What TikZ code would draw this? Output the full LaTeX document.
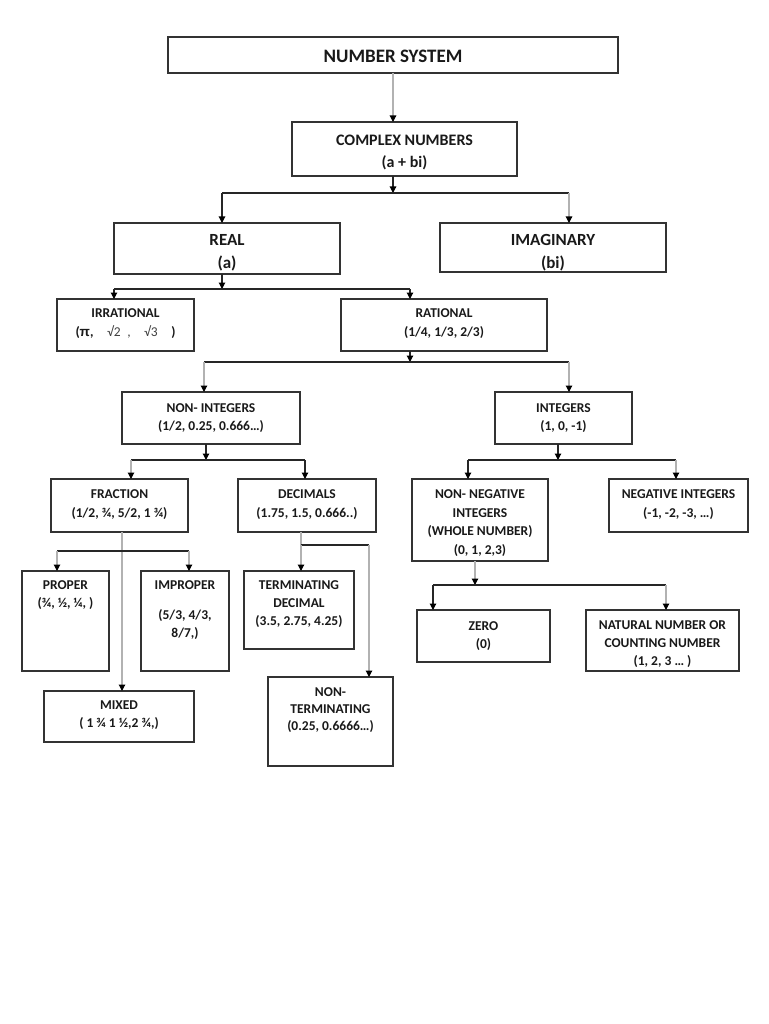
\documentclass[tikz,border=0pt]{standalone}
\usepackage{fontspec}
\setmainfont{Carlito}
\newfontfamily\pifont{Liberation Sans}
\usetikzlibrary{arrows.meta}
\begin{document}
\begin{tikzpicture}[x=1pt,y=-1pt,
  box/.style={draw=black!80, line width=1.3pt, inner sep=0pt, outer sep=0pt},
  txt/.style={align=center, inner sep=0pt, anchor=north, text=black!90, font=\bfseries\fontsize{13.5}{19}\selectfont},
  conn/.style={draw=black!85, line width=1.1pt},
  lconn/.style={draw=black!30, line width=1.1pt},
  arr/.style={-{Triangle[length=6.5pt,width=6.5pt,color=black]}}
]
\fill[white] (0,0) rectangle (768,1024);
\useasboundingbox (0,0) rectangle (768,1024);

% boxes
\node[box,minimum width=450pt,minimum height=36pt] (ns) at (393,55) {};
\node[box,minimum width=225pt,minimum height=54pt] (cx) at (404.5,149) {};
\node[box,minimum width=226pt,minimum height=51pt] (real) at (227,248.5) {};
\node[box,minimum width=226pt,minimum height=49pt] (imag) at (553,247.5) {};
\node[box,minimum width=137pt,minimum height=52pt] (irr) at (125.5,325) {};
\node[box,minimum width=206pt,minimum height=52pt] (rat) at (444,325) {};
\node[box,minimum width=178pt,minimum height=52pt] (nonint) at (211,418) {};
\node[box,minimum width=137pt,minimum height=52pt] (int) at (563.5,418) {};
\node[box,minimum width=137pt,minimum height=53pt] (frac) at (119.5,505.5) {};
\node[box,minimum width=138pt,minimum height=53pt] (dec) at (307,505.5) {};
\node[box,minimum width=136pt,minimum height=82pt] (nonneg) at (480,520) {};
\node[box,minimum width=139pt,minimum height=53pt] (neg) at (678.5,505.5) {};
\node[box,minimum width=87pt,minimum height=100pt] (proper) at (65.5,621) {};
\node[box,minimum width=88pt,minimum height=100pt] (improper) at (185,621) {};
\node[box,minimum width=110pt,minimum height=78pt] (term) at (299,610) {};
\node[box,minimum width=150pt,minimum height=51pt] (mixed) at (119,716.5) {};
\node[box,minimum width=125pt,minimum height=89pt] (nonterm) at (330.5,721.5) {};
\node[box,minimum width=133pt,minimum height=52pt] (zero) at (483.5,636) {};
\node[box,minimum width=153pt,minimum height=61pt] (nat) at (662.5,640.5) {};

% texts
\node[txt,font=\bfseries\fontsize{19}{23}\selectfont] (nsT) at (393,50) {NUMBER SYSTEM};
\node[txt,font=\bfseries\fontsize{16}{22}\selectfont] (cxT) at (404.5,135) {COMPLEX NUMBERS\\(a + bi)};
\node[txt,font=\bfseries\fontsize{17}{23}\selectfont] (realT) at (227,234.6) {REAL\\(a)};
\node[txt,font=\bfseries\fontsize{17}{23}\selectfont] (imagT) at (553,234.6) {IMAGINARY\\(bi)};
\node[txt] (irrT) at (125.5,308.7) {IRRATIONAL\\({\pifont\bfseries π},\quad{\mdseries\color{black!75}√2\enspace,\quad√3}\quad)};
\node[txt] (ratT) at (444,308.7) {RATIONAL\\(1/4, 1/3, 2/3)};
\node[txt,font=\bfseries\fontsize{13.5}{18}\selectfont] (nonintT) at (211,403.7) {NON- INTEGERS\\(1/2, 0.25, 0.666…)};
\node[txt,font=\bfseries\fontsize{13.5}{18}\selectfont] (intT) at (563.5,403.7) {INTEGERS\\(1, 0, -1)};
\node[txt] (fracT) at (119.5,489.7) {FRACTION\\(1/2, ¾, 5/2, 1 ¾)};
\node[txt] (decT) at (307,489.7) {DECIMALS\\(1.75, 1.5, 0.666..)};
\node[txt,font=\bfseries\fontsize{13.5}{18.5}\selectfont] (nonnegT) at (480,489.7) {NON- NEGATIVE\\INTEGERS\\(WHOLE NUMBER)\\(0, 1, 2,3)};
\node[txt] (negT) at (678.5,489.7) {NEGATIVE INTEGERS\\(-1, -2, -3, …)};
\node[txt,font=\bfseries\fontsize{13.5}{18}\selectfont] (properT) at (65.5,580.7) {PROPER\\(¾, ½, ¼, )};
\node[txt,font=\bfseries\fontsize{13.5}{18}\selectfont] (improperT) at (185,580.7) {IMPROPER\\[12pt](5/3, 4/3,\\8/7,)};
\node[txt,font=\bfseries\fontsize{13.5}{18}\selectfont] (termT) at (299,580.7) {TERMINATING\\DECIMAL\\(3.5, 2.75, 4.25)};
\node[txt,font=\bfseries\fontsize{13.5}{18}\selectfont] (mixedT) at (119,700.7) {MIXED\\( 1 ¾ 1 ½,2 ¾,)};
\node[txt,font=\bfseries\fontsize{13.5}{17}\selectfont] (nontermT) at (330.5,687.7) {NON-\\TERMINATING\\(0.25, 0.6666…)};
\node[txt,font=\bfseries\fontsize{13.5}{18}\selectfont] (zeroT) at (483.5,621.7) {ZERO\\(0)};
\node[txt,font=\bfseries\fontsize{13.5}{18}\selectfont] (natT) at (662.5,620.7) {NATURAL NUMBER OR\\COUNTING NUMBER\\(1, 2, 3 … )};

% junction coordinates
\coordinate (j1) at (393,193);
\coordinate (j1L) at (222,193);
\coordinate (j1R) at (569,193);
\coordinate (j2) at (222,289);
\coordinate (j2L) at (114,289);
\coordinate (j2R) at (410,289);
\coordinate (j3) at (410,362);
\coordinate (j3L) at (204,362);
\coordinate (j3R) at (569,362);
\coordinate (j4) at (206,460);
\coordinate (j4L) at (131,460);
\coordinate (j4R) at (305,460);
\coordinate (j5) at (558,460);
\coordinate (j5L) at (468,460);
\coordinate (j5R) at (676,460);
\coordinate (j6L) at (57,551);
\coordinate (j6R) at (189,551);
\coordinate (fx) at (122,0);
\coordinate (j7) at (301,545);
\coordinate (j7R) at (369,545);
\coordinate (j8) at (475,585);
\coordinate (j8L) at (433,585);
\coordinate (j8R) at (666,585);

% connectors
\draw[lconn,arr] (ns.south) -- (ns.south |- cx.north);
\draw[conn,arr] (j1 |- cx.south) -- (j1);
\draw[conn] (j1L) -- (j1R);
\draw[conn,arr] (j1L) -- (j1L |- real.north);
\draw[lconn,arr] (j1R) -- (j1R |- imag.north);

\draw[conn,arr] (j2 |- real.south) -- (j2);
\draw[conn] (j2L) -- (j2R);
\draw[conn,arr] (j2L) -- (j2L |- irr.north);
\draw[conn,arr] (j2R) -- (j2R |- rat.north);

\draw[conn,arr] (j3 |- rat.south) -- (j3);
\draw[conn] (j3L) -- (j3R);
\draw[lconn,arr] (j3L) -- (j3L |- nonint.north);
\draw[lconn,arr] (j3R) -- (j3R |- int.north);

\draw[conn,arr] (j4 |- nonint.south) -- (j4);
\draw[conn] (j4L) -- (j4R);
\draw[lconn,arr] (j4L) -- (j4L |- frac.north);
\draw[conn,arr] (j4R) -- (j4R |- dec.north);

\draw[conn,arr] (j5 |- int.south) -- (j5);
\draw[conn] (j5L) -- (j5R);
\draw[conn,arr] (j5L) -- (j5L |- nonneg.north);
\draw[lconn,arr] (j5R) -- (j5R |- neg.north);

\draw[lconn,arr] (fx |- frac.south) -- (fx |- mixed.north);
\draw[conn] (j6L) -- (j6R);
\draw[lconn,arr] (j6L) -- (j6L |- proper.north);
\draw[lconn,arr] (j6R) -- (j6R |- improper.north);

\draw[lconn] (j7 |- dec.south) -- (j7);
\draw[conn] (j7) -- (j7R);
\draw[lconn,arr] (j7) -- (j7 |- term.north);
\draw[lconn,arr] (j7R) -- (j7R |- nonterm.north);

\draw[lconn,arr] (j8 |- nonneg.south) -- (j8);
\draw[conn] (j8L) -- (j8R);
\draw[conn,arr] (j8L) -- (j8L |- zero.north);
\draw[lconn,arr] (j8R) -- (j8R |- nat.north);
\end{tikzpicture}
\end{document}
